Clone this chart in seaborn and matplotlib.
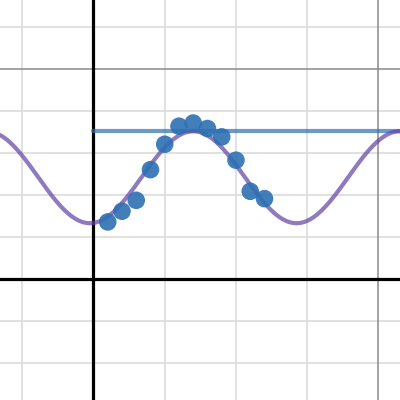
import numpy as np
import pandas as pd
import matplotlib
matplotlib.use("Agg")
import matplotlib.pyplot as plt
import seaborn as sns

# Data points (month, value)
months = [1, 2, 3, 4, 5, 6, 7, 8, 9, 10, 11, 12]
values = [2.73, 3.24, 3.76, 5.22, 6.43, 7.29, 7.44, 7.18, 6.78, 5.67, 4.19, 3.84]

# Sinusoidal model parameters: y = d + a*cos(b*(x - c))
amp = 2.19
period = 14.5
shift = 7.0
mid = 4.86

# Horizontal line level (starts at x = 0)
h_level = 7.05

x_min, x_max = -6.56, 21.51
y_min, y_max = -5.75, 13.3

sns.set_style("white")
fig = plt.figure(figsize=(4, 4), dpi=100)
ax = fig.add_axes([0, 0, 1, 1])
ax.set_xlim(x_min, x_max)
ax.set_ylim(y_min, y_max)
ax.set_axis_off()

# grid
for gx in np.arange(-5, 25, 5):
    if gx == 0:
        continue
    if gx % 20 == 0:
        ax.axvline(gx, color="#8a8a8a", lw=1.1, zorder=1)
    else:
        ax.axvline(gx, color="#dcdcdc", lw=1.2, zorder=0.5)
for gy in np.arange(-4, 14, 2):
    if gy == 0:
        continue
    if gy % 10 == 0:
        ax.axhline(gy, color="#8a8a8a", lw=1.1, zorder=1)
    else:
        ax.axhline(gy, color="#dcdcdc", lw=1.2, zorder=0.5)

# axes
ax.axvline(0, color="black", lw=2.3, zorder=2)
ax.axhline(0, color="black", lw=2.3, zorder=2)

# horizontal line
hl = pd.DataFrame({"x": [0, x_max + 5], "y": [h_level, h_level]})
sns.lineplot(data=hl, x="x", y="y", ax=ax, color="#2d70b3", alpha=0.7,
             lw=3.0, solid_capstyle="round", zorder=3)

# curve
xs = np.linspace(x_min - 1, x_max + 1, 600)
curve = pd.DataFrame({"x": xs, "y": mid + amp * np.cos(2 * np.pi / period * (xs - shift))})
sns.lineplot(data=curve, x="x", y="y", ax=ax, color="#6042a6", alpha=0.7,
             lw=3.0, zorder=4)

# points
pts = pd.DataFrame({"month": months, "value": values})
sns.scatterplot(data=pts, x="month", y="value", ax=ax, color="#2d70b3",
                alpha=0.9, s=160, edgecolor="none", zorder=5)

ax.set_xlim(x_min, x_max)
ax.set_ylim(y_min, y_max)
ax.set_axis_off()
fig.savefig("out.png", dpi=100)
